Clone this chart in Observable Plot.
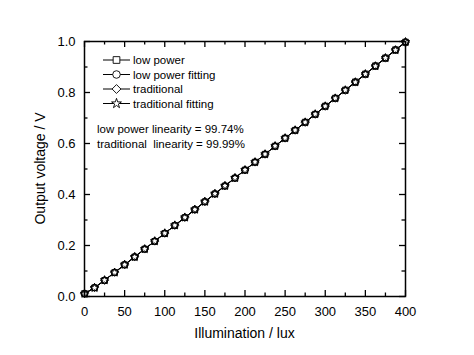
<!DOCTYPE html>
<html><head><meta charset="utf-8">
<script src="https://cdn.jsdelivr.net/npm/d3@7"></script>
<script src="https://cdn.jsdelivr.net/npm/@observablehq/plot@0.6"></script>
<style>body{margin:0;background:#fff}#c{position:relative;width:474px;height:355px}</style>
</head><body><div id="c"></div>
<script>
const illumination = [0,12.5,25,37.5,50,62.5,75,87.5,100,112.5,125,137.5,150,162.5,175,187.5,200,212.5,225,237.5,250,262.5,275,287.5,300,312.5,325,337.5,350,362.5,375,387.5,400];
const lowPower = [0.012,0.034,0.063,0.094,0.124,0.155,0.186,0.216,0.247,0.278,0.309,0.340,0.371,0.402,0.433,0.464,0.496,0.527,0.558,0.590,0.621,0.652,0.684,0.715,0.747,0.778,0.810,0.842,0.873,0.905,0.936,0.968,0.998];
const lowPowerFit = [0.010,0.035,0.064,0.094,0.125,0.155,0.186,0.217,0.248,0.279,0.310,0.341,0.372,0.403,0.434,0.465,0.496,0.527,0.558,0.589,0.621,0.652,0.683,0.714,0.746,0.777,0.808,0.840,0.871,0.903,0.934,0.966,0.997];
const traditional = [0.011,0.035,0.063,0.095,0.124,0.156,0.186,0.217,0.248,0.279,0.310,0.341,0.372,0.403,0.434,0.465,0.496,0.527,0.558,0.590,0.621,0.652,0.683,0.715,0.746,0.778,0.809,0.841,0.872,0.904,0.935,0.967,0.998];
const traditionalFit = [0.011,0.034,0.064,0.094,0.125,0.155,0.186,0.217,0.248,0.279,0.310,0.341,0.372,0.403,0.434,0.465,0.496,0.527,0.558,0.590,0.621,0.652,0.683,0.715,0.746,0.777,0.809,0.840,0.872,0.903,0.935,0.966,0.998];
const xMajor = [0,50,100,150,200,250,300,350,400];
const xMinor = [25,75,125,175,225,275,325,375];
const yMajor = [0,0.2,0.4,0.6,0.8,1.0];
const yMinor = [0.1,0.3,0.5,0.7,0.9];
const xTitle = "Illumination / lux";
const yTitle = "Output voltage / V";
const seriesNames = ["low power","low power fitting","traditional","traditional fitting"];
const seriesSymbols = ["square","circle","diamond2","star"];
const notes = ["low power linearity = 99.74%","traditional  linearity = 99.99%"];

const seriesVals = [lowPower, lowPowerFit, traditional, traditionalFit];
const rows = [];
seriesVals.forEach((vals, s) => vals.forEach((v, i) => rows.push({x: illumination[i], y: v, s})));

const W = 474, H = 355, mL = 84, mR = 69, mT = 41, mB = 59;
const iw = W - mL - mR, ih = H - mT - mB;
const font = "Liberation Sans, Arial, sans-serif";
const symR = [3.2, 3.3, 3.6, 2.7];

const marks = [
  Plot.line(rows, {x: "x", y: "y", z: "s", stroke: "black", strokeWidth: 1}),
  ...seriesSymbols.map((sym, s) => Plot.dot(rows.filter(d => d.s === s), {x: "x", y: "y", symbol: () => sym, r: symR[s], stroke: "black", fill: "white", fillOpacity: s === 0 ? 1 : 0, strokeWidth: 0.9})),
  Plot.tickX(xMajor, {x: d => d, insetTop: ih - 6, stroke: "black", strokeWidth: 1.3}),
  Plot.tickX(xMinor, {x: d => d, insetTop: ih - 3.5, stroke: "black", strokeWidth: 1.3}),
  Plot.tickX(xMajor, {x: d => d, insetBottom: ih - 6, stroke: "black", strokeWidth: 1.3}),
  Plot.tickX(xMinor, {x: d => d, insetBottom: ih - 3.5, stroke: "black", strokeWidth: 1.3}),
  Plot.tickY(yMajor, {y: d => d, insetRight: iw - 6, stroke: "black", strokeWidth: 1.3}),
  Plot.tickY(yMinor, {y: d => d, insetRight: iw - 3.5, stroke: "black", strokeWidth: 1.3}),
  Plot.tickY(yMajor, {y: d => d, insetLeft: iw - 6, stroke: "black", strokeWidth: 1.3}),
  Plot.tickY(yMinor, {y: d => d, insetLeft: iw - 3.5, stroke: "black", strokeWidth: 1.3}),
  Plot.axisX(xMajor, {tickSize: 0, tickPadding: 10, fontSize: 13, label: null}),
  Plot.axisY(yMajor, {tickSize: 0, tickPadding: 9, fontSize: 13, tickFormat: d3.format(".1f"), label: null}),
  Plot.frame({stroke: "black", strokeWidth: 1.5})
];

const chart = Plot.plot({
  width: W, height: H,
  marginLeft: mL, marginRight: mR, marginTop: mT, marginBottom: mB,
  style: {fontFamily: font, fontSize: "13px", color: "black", background: "white"},
  x: {domain: [0, 400]},
  y: {domain: [0, 1.0]},
  marks
});
document.getElementById("c").appendChild(chart);

const svg = d3.select(chart);
const g = svg.append("g").attr("font-family", font).attr("text-anchor", "start").attr("fill", "black");
g.append("text").attr("x", mL + iw / 2).attr("y", 333).attr("dy", "0.35em").attr("text-anchor", "middle").attr("font-size", 14).text(xTitle);
g.append("text").attr("transform", `translate(40,${mT + ih / 2}) rotate(-90)`).attr("dy", "0.35em").attr("text-anchor", "middle").attr("font-size", 14).text(yTitle);
const symMap = {square: d3.symbolSquare, circle: d3.symbolCircle, diamond2: d3.symbolDiamond2, star: d3.symbolStar};
const legSize = [45, 45, 50, 30];
seriesNames.forEach((name, i) => {
  const yy = 60 + i * 14.5;
  g.append("line").attr("x1", 103).attr("x2", 130).attr("y1", yy).attr("y2", yy).attr("stroke", "black");
  g.append("path").attr("d", d3.symbol(symMap[seriesSymbols[i]], legSize[i])()).attr("transform", `translate(116.5,${yy})`).attr("fill", "white").attr("stroke", "black").attr("stroke-width", 0.9);
  g.append("text").attr("x", 133).attr("y", yy).attr("dy", "0.35em").attr("font-size", 11.5).text(name);
});
notes.forEach((t, i) => {
  g.append("text").attr("x", 97).attr("y", 129 + i * 14.5).attr("dy", "0.35em").attr("font-size", 11.5).style("white-space", "pre").text(t);
});
</script></body></html>
